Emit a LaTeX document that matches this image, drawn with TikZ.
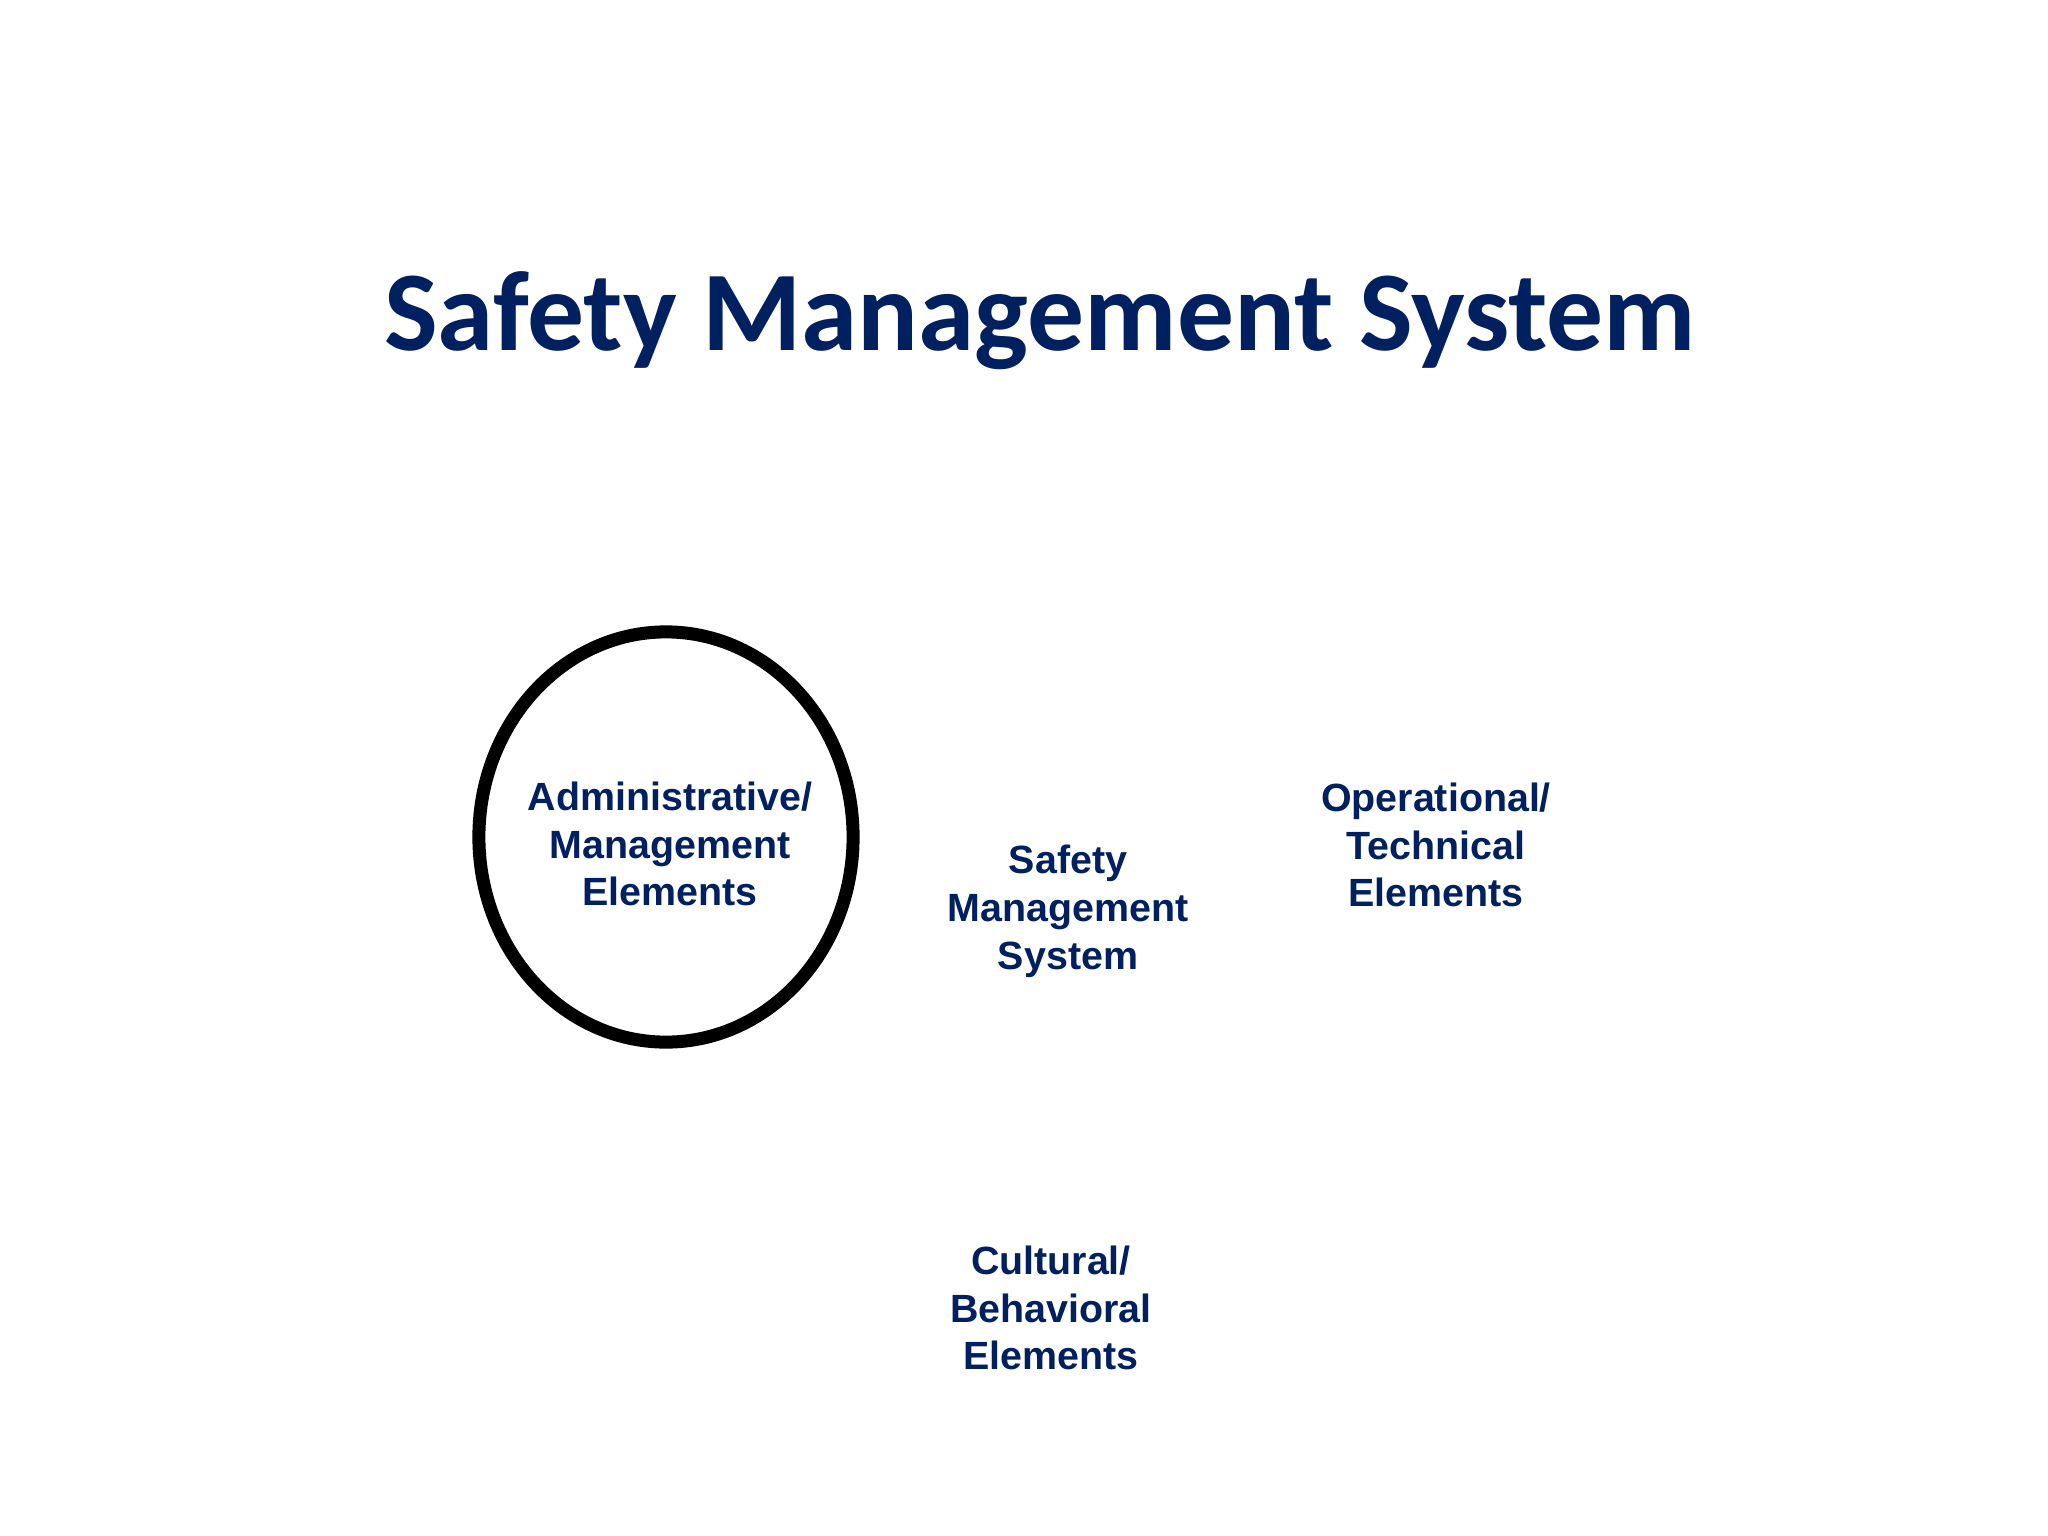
\documentclass[tikz,border=0pt]{standalone}
\usepackage{fontspec}
\usetikzlibrary{shapes.geometric}
\newfontfamily\titlefont{Carlito}
\newfontfamily\labelfont{Liberation Sans}
\definecolor{smsnavy}{RGB}{0,32,96}
\begin{document}
\begin{tikzpicture}[x=0.01cm,y=-0.01cm,
  titletext/.style={text=smsnavy,inner sep=0pt,anchor=base,
    font=\titlefont\bfseries\fontsize{32.3}{36}\selectfont},
  labeltext/.style={text=smsnavy,inner sep=0pt,align=center,
    font=\labelfont\bfseries\fontsize{11.2}{13.6}\selectfont},
  ringshape/.style={draw=black,line width=3.7pt,ellipse,inner sep=0pt,
    minimum width=3.74cm,minimum height=4.10cm}]
\useasboundingbox[fill=white] (0,0) rectangle (2048,1536);
\node[titletext] (title) at (1040,350) {Safety Management System};
\node[ringshape] (admring) at (666,837) {};
\node[labeltext] (admin) at (670,844) {Administrative/\\Management\\Elements};
\node[labeltext] (sms) at (1068,911) {Safety\\Management\\System};
\node[labeltext] (oper) at (1436,845) {Operational/\\Technical\\Elements};
\node[labeltext] (cult) at (1051,1308) {Cultural/\\Behavioral\\Elements};
\end{tikzpicture}
\end{document}
